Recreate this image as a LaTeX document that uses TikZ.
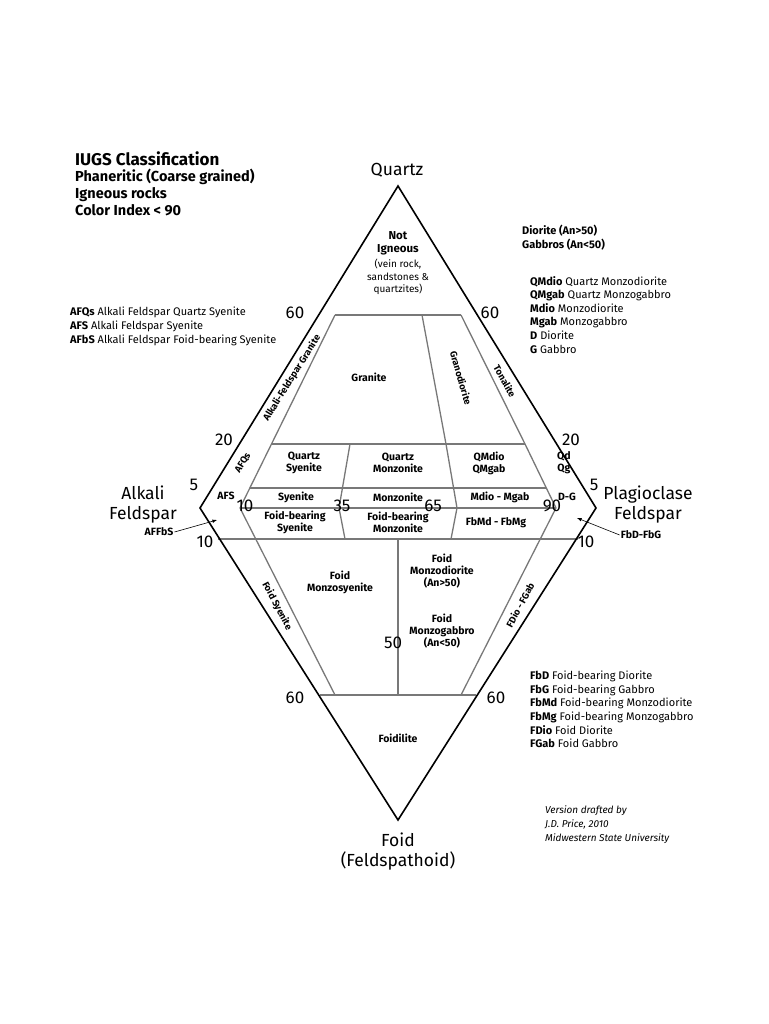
\documentclass[tikz,border=0pt]{standalone}
\usepackage{fontspec}
\setmainfont{Fira Sans}
\usetikzlibrary{calc,arrows}
\definecolor{boxgray}{RGB}{120,120,120}
\tikzset{
  rim/.style={line width=1.6pt,black,line join=miter},
  field/.style={line width=1.3pt,boxgray},
  lab/.style={font=\bfseries\fontsize{10.5}{12}\selectfont,align=center,inner sep=1pt},
  slant/.style={lab,font=\bfseries\fontsize{9.5}{11}\selectfont},
  num/.style={font=\fontsize{17}{18}\selectfont,inner sep=1pt},
  corner/.style={font=\fontsize{17.5}{20}\selectfont,align=center},
  legend/.style={font=\fontsize{8}{10}\selectfont,anchor=west,align=left,inner sep=0pt}
}
\begin{document}
\begin{tikzpicture}[x=1pt,y=-1pt]
\useasboundingbox (0,0) rectangle (768,1024);
% apices
\coordinate (Q) at (398,186);
\coordinate (A) at (200,508);
\coordinate (P) at (596,508);
\coordinate (F) at (398,820);
% field boundaries, upper triangle
\draw[field] (335,315) -- (461,315);
\draw[field] (271,444) -- (525,444);
\draw[field] (250,488) -- (546,488);
\draw[field] (335,315) -- (240,508);
\draw[field] (422,315) -- (446,444);
\draw[field] (461,315) -- (525,444);
\draw[field] (350,444) -- (339,508);
\draw[field] (446,444) -- (457,508);
\draw[field] (525,444) -- (556,508);
% lower triangle
\draw[field] (240,508) -- (556,508);
\draw[field] (218,539) -- (578,539);
\draw[field] (320,695) -- (476,695);
\draw[field] (240,508) -- (335,695);
\draw[field] (339,508) -- (345,539);
\draw[field] (457,508) -- (451,539);
\draw[field] (556,508) -- (461,695);
\draw[field] (398,539) -- (398,695);
\draw[rim] (Q) -- (P) -- (F) -- (A) -- cycle;
% corner names
\node[corner] (qz) at (397,170) {Quartz};
\node[corner] (af) at (143,505) {Alkali\\Feldspar};
\node[corner] (pf) at (648,505) {Plagioclase\\Feldspar};
\node[corner] (fd) at (398,852) {Foid\\(Feldspathoid)};
% ticks
\node[num] (n60l) at (295,313) {60};
\node[num] (n60r) at (490,313) {60};
\node[num] (n20l) at (224,440) {20};
\node[num] (n20r) at (571,440) {20};
\node[num] (n5l) at (194,485) {5};
\node[num] (n5r) at (594,485) {5};
\node[num] (n10l) at (205,542) {10};
\node[num] (n10r) at (586,542) {10};
\node[num] (n10) at (245,506) {10};
\node[num] (n35) at (342,506) {35};
\node[num] (n65) at (433,506) {65};
\node[num] (n90) at (552,506) {90};
\node[num] (n60bl) at (295,698) {60};
\node[num] (n60br) at (496,698) {60};
\node[num] (n50) at (393,643) {50};
% fields
\node[lab,font=\bfseries\fontsize{11.5}{13}\selectfont] (ni) at (398,243) {Not\\Igneous};
\node[lab,font=\fontsize{10}{12.5}\selectfont] (vr) at (398,277) {(vein rock,\\sandstones \&\\quartzites)};
\node[lab] (gr) at (369,377) {Granite};
\node[slant,rotate=-74] (gd) at (461,378) {Granodiorite};
\node[slant,rotate=-61] (to) at (505,381) {Tonalite};
\node[slant,rotate=58] (afg) at (292,378) {Alkali-Feldspar Granite};
\node[slant,rotate=58] (afq) at (243,463) {AFQs};
\node[lab] (qs) at (304,463) {Quartz\\Syenite};
\node[lab] (qm) at (398,463) {Quartz\\Monzonite};
\node[lab] (qmd) at (489,463) {QMdio\\QMgab};
\node[lab] (qd) at (564,463) {Qd\\Qg};
\node[lab] (afs) at (226,496) {AFS};
\node[lab] (sy) at (296,497) {Syenite};
\node[lab] (mz) at (398,497) {Monzonite};
\node[lab] (mdio) at (500,497) {Mdio - Mgab};
\node[lab] (dg) at (567,497) {D-G};
\node[lab] (fbs) at (295,522) {Foid-bearing\\Syenite};
\node[lab] (fbm) at (398,522) {Foid-bearing\\Monzonite};
\node[lab] (fbmd) at (496,523) {FbMd - FbMg};
\node[lab] (fms) at (340,582) {Foid\\Monzosyenite};
\node[lab] (fmd) at (442,571) {Foid\\Monzodiorite\\(An>50)};
\node[lab] (fmg) at (442,631) {Foid\\Monzogabbro\\(An<50)};
\node[slant,rotate=-62] (fsy) at (277,606) {Foid Syenite};
\node[slant,rotate=62] (fdio) at (520,605) {FDio - FGab};
\node[lab] (fl) at (398,738) {Foidilite};
% pointers
\node[lab] (affbs) at (159,532) {AFFbS};
\coordinate (affbsTip) at (217,520);
\draw[-latex,line width=0.6pt] (affbs.east) -- (affbsTip);
\node[lab] (fbdg) at (641,535) {FbD-FbG};
\coordinate (fbdgTip) at (577,518);
\draw[-latex,line width=0.6pt] (fbdg.west) -- (fbdgTip);
% titles and legends
\node[legend,font=\bfseries\fontsize{17}{19}\selectfont] (ttl) at (75,159) {IUGS Classification};
\node[legend,font=\bfseries\fontsize{14.5}{17}\selectfont,anchor=north west] (sub) at (75,169)
  {Phaneritic (Coarse grained)\\Igneous rocks\\Color Index < 90};
\node[legend,anchor=north west,font=\fontsize{11}{14}\selectfont] (lgl) at (70,307)
  {\textbf{AFQs} Alkali Feldspar Quartz Syenite\\\textbf{AFS} Alkali Feldspar Syenite\\\textbf{AFbS} Alkali Feldspar Foid-bearing Syenite};
\node[legend,anchor=north west,font=\bfseries\fontsize{11}{14}\selectfont] (an) at (522,225)
  {Diorite (An>50)\\Gabbros (An<50)};
\node[legend,anchor=north west,font=\fontsize{11}{13.6}\selectfont] (lgr) at (530,276)
  {\textbf{QMdio} Quartz Monzodiorite\\\textbf{QMgab} Quartz Monzogabbro\\\textbf{Mdio} Monzodiorite\\\textbf{Mgab} Monzogabbro\\\textbf{D} Diorite\\\textbf{G} Gabbro};
\node[legend,anchor=north west,font=\fontsize{11}{13.6}\selectfont] (lgf) at (530,671)
  {\textbf{FbD} Foid-bearing Diorite\\\textbf{FbG} Foid-bearing Gabbro\\\textbf{FbMd} Foid-bearing Monzodiorite\\\textbf{FbMg} Foid-bearing Monzogabbro\\\textbf{FDio} Foid Diorite\\\textbf{FGab} Foid Gabbro};
\node[legend,anchor=north west,font=\itshape\fontsize{10}{14}\selectfont] (ver) at (545,805)
  {Version drafted by\\J.D. Price, 2010\\Midwestern State University};
\end{tikzpicture}
\end{document}
